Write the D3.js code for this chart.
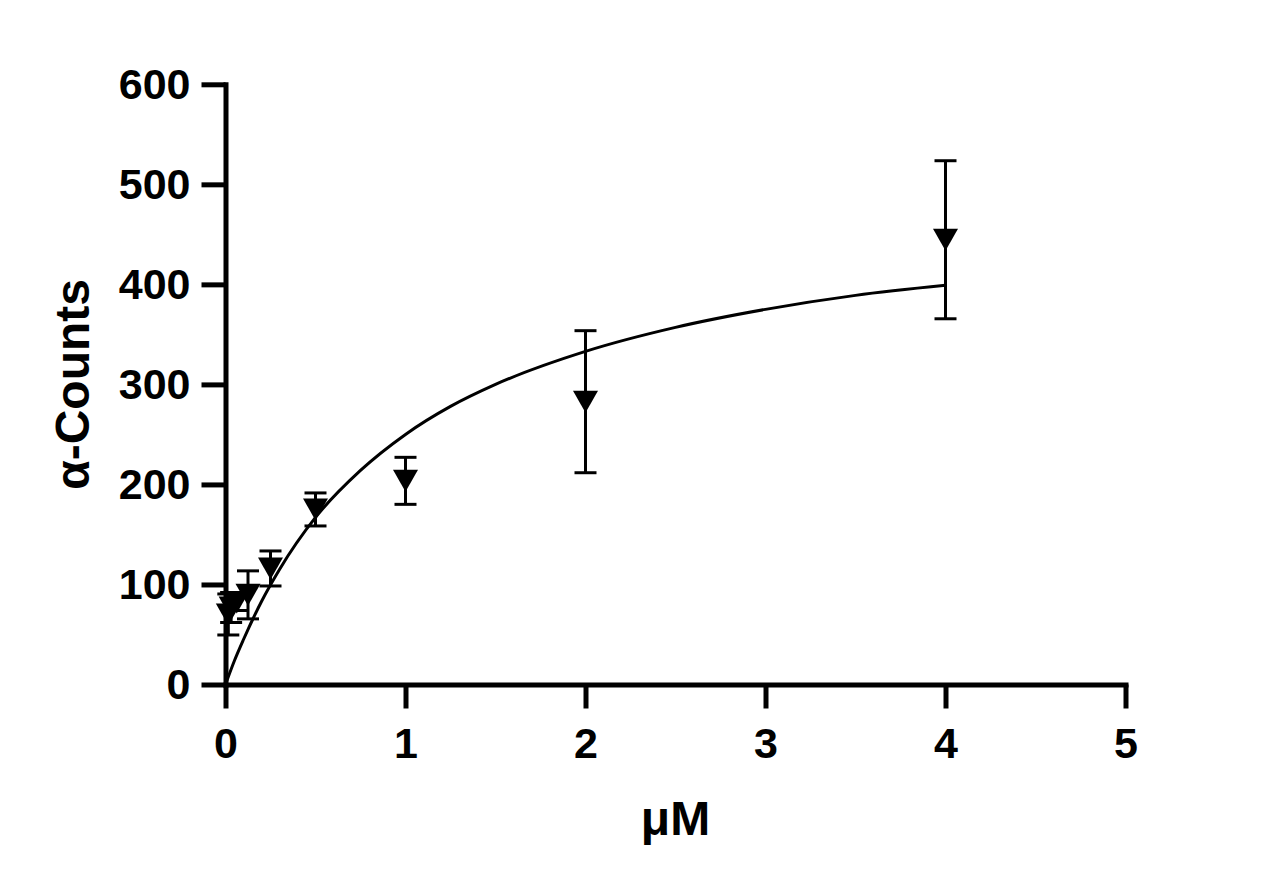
<!DOCTYPE html>
<meta charset="utf-8">
<script src="https://d3js.org/d3.v7.min.js"></script>
<style>
  body { margin: 0; background: #fff; }
  text { font-family: "Liberation Sans", Arial, sans-serif; font-weight: bold; fill: #000; }
</style>
<div id="my_dataviz"></div>
<script>

// measured points (mean +/- error)
var conc   = [0.015625, 0.03125, 0.0625, 0.125, 0.25, 0.5, 1, 2, 4];
var counts = [70, 77, 82, 89.6, 116, 175, 203.6, 282.7, 444.6];
var errs   = [20.5, 15, 8, 24, 17.5, 16.5, 23.5, 71, 79];

// fitted curve
var fitX = [0, 0.05, 0.1, 0.2, 0.3, 0.5, 0.75, 1, 1.25, 1.5, 2, 2.5, 3, 3.5, 4];
var fitY = [0, 24, 45, 83, 115, 167, 214, 250, 278, 300, 333, 357, 375, 389, 399];

var xTicks = [0, 1, 2, 3, 4, 5];
var yTicks = [0, 100, 200, 300, 400, 500, 600];

var margin = {top: 84.3, right: 136, bottom: 204.5, left: 225.5},
    width = 900,
    height = 600.2;

var svg = d3.select("#my_dataviz")
  .append("svg")
    .attr("width", 1264)
    .attr("height", 889)
  .append("g")
    .attr("transform", "translate(" + margin.left + "," + margin.top + ")");

var x = d3.scaleLinear().domain([0, 5]).range([0, width]);
var y = d3.scaleLinear().domain([0, 600]).range([height, 0]);

// axes
var xAxis = svg.append("g")
  .attr("transform", "translate(0," + height + ")")
  .call(d3.axisBottom(x).tickValues(xTicks).tickFormat(d3.format("d"))
    .tickSize(24).tickSizeOuter(0).tickPadding(19));
var yAxis = svg.append("g")
  .call(d3.axisLeft(y).tickValues(yTicks).tickFormat(d3.format("d"))
    .tickSize(24).tickSizeOuter(0).tickPadding(11));

[xAxis, yAxis].forEach(function(a) {
  a.select(".domain").attr("stroke", "#000").attr("stroke-width", 5).attr("stroke-linecap", "square");
  a.selectAll(".tick line").attr("stroke", "#000").attr("stroke-width", 5);
  a.selectAll(".tick text").style("font-size", "43px").attr("fill", "#000");
});

// fitted curve
var fit = fitX.map(function(v, i) { return [v, fitY[i]]; });
svg.append("path")
  .datum(fit)
  .attr("fill", "none")
  .attr("stroke", "#000")
  .attr("stroke-width", 3)
  .attr("d", d3.line()
    .x(function(d) { return x(d[0]); })
    .y(function(d) { return y(d[1]); })
    .curve(d3.curveMonotoneX));

var data = conc.map(function(c, i) { return {x: c, y: counts[i], e: errs[i]}; });

// error bars
var bars = svg.selectAll("g.err")
  .data(data)
  .enter()
  .append("g")
    .attr("class", "err")
    .attr("stroke", "#000")
    .attr("stroke-width", 3);
bars.append("line")
  .attr("x1", function(d) { return x(d.x); })
  .attr("x2", function(d) { return x(d.x); })
  .attr("y1", function(d) { return y(d.y + d.e); })
  .attr("y2", function(d) { return y(d.y - d.e); });
bars.append("line")
  .attr("x1", function(d) { return x(d.x) - 11; })
  .attr("x2", function(d) { return x(d.x) + 11; })
  .attr("y1", function(d) { return y(d.y + d.e); })
  .attr("y2", function(d) { return y(d.y + d.e); });
bars.append("line")
  .attr("x1", function(d) { return x(d.x) - 11; })
  .attr("x2", function(d) { return x(d.x) + 11; })
  .attr("y1", function(d) { return y(d.y - d.e); })
  .attr("y2", function(d) { return y(d.y - d.e); });

// down triangles
svg.selectAll("path.pt")
  .data(data)
  .enter()
  .append("path")
    .attr("class", "pt")
    .attr("d", "M-12.5,-11L12.5,-11L0,11Z")
    .attr("transform", function(d) { return "translate(" + x(d.x) + "," + y(d.y) + ")"; })
    .attr("fill", "#000");

// axis titles
svg.append("text")
  .attr("x", width / 2)
  .attr("y", 835 - margin.top)
  .attr("text-anchor", "middle")
  .style("font-size", "48px")
  .text("μM");

svg.append("text")
  .attr("transform", "translate(" + (89 - margin.left) + "," + (height / 2) + ")rotate(-90)")
  .attr("text-anchor", "middle")
  .style("font-size", "48px")
  .text("α-Counts");

</script>
